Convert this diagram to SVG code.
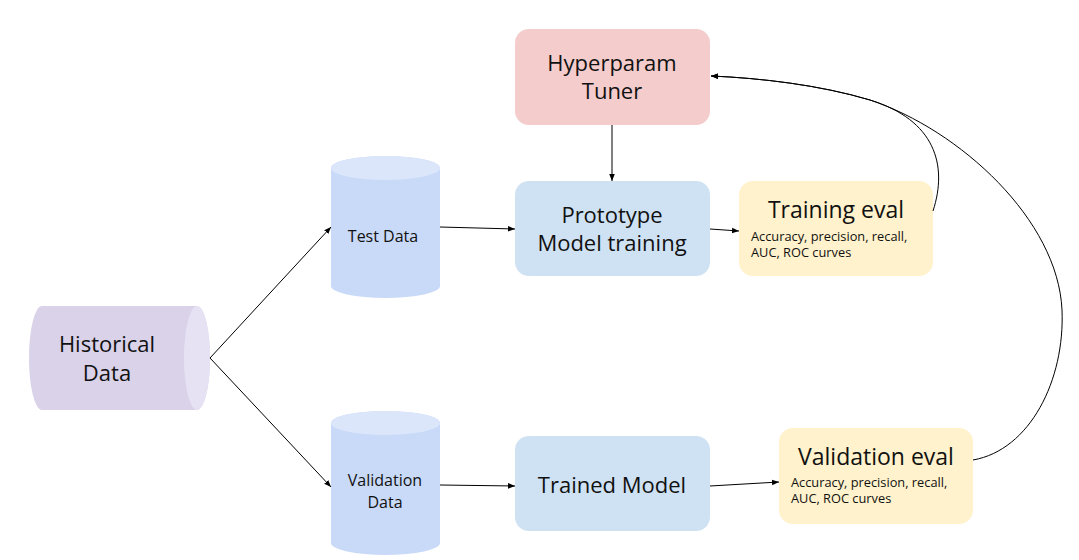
<svg xmlns="http://www.w3.org/2000/svg" width="1079" height="560" viewBox="0 0 1079 560">
<defs>
<style>
text{font-family:"Open Sans","Noto Sans","DejaVu Sans",sans-serif;fill:#111;}
.big{font-size:22px;text-anchor:middle;}
.mid{font-size:16px;text-anchor:middle;}
.title{font-size:23px;text-anchor:middle;}
.small{font-size:12.8px;}
.conn{fill:none;stroke:#000;stroke-width:1;}
</style>
<marker id="arr" viewBox="0 0 10 10" refX="10" refY="5" markerWidth="7" markerHeight="7" orient="auto" markerUnits="userSpaceOnUse">
<path d="M0,1 L10,5 L0,9 z" fill="#000"/>
</marker>
</defs>
<rect width="1079" height="560" fill="#fff"/>
<g id="historical-data">
<path d="M42,306 L197,306 A13,52 0 0 1 197,410 L42,410 A13,52 0 0 1 42,306 z" fill="#d9d2e9"/>
<ellipse cx="197" cy="358" rx="13" ry="52" fill="#e7e2f3"/>
<text class="big" x="107" y="352">Historical</text>
<text class="big" x="107" y="381">Data</text>
</g>
<g id="test-data">
<path d="M331,168 A54.5,12 0 0 1 440,168 L440,286 A54.5,12 0 0 1 331,286 z" fill="#c9daf8"/>
<ellipse cx="385.5" cy="168" rx="54.5" ry="12" fill="#dbe6fb"/>
<text class="mid" x="383" y="242">Test Data</text>
</g>
<g id="validation-data">
<path d="M331,423 A54.5,12 0 0 1 440,423 L440,543 A54.5,12 0 0 1 331,543 z" fill="#c9daf8"/>
<ellipse cx="385.5" cy="423" rx="54.5" ry="12" fill="#dbe6fb"/>
<text class="mid" x="385" y="486">Validation</text>
<text class="mid" x="385" y="508">Data</text>
</g>
<g id="hyperparam-tuner">
<rect x="515" y="29" width="195" height="96" rx="14" fill="#f4cccc"/>
<text class="big" x="612" y="71">Hyperparam</text>
<text class="big" x="612" y="99">Tuner</text>
</g>
<g id="prototype-model-training">
<rect x="515" y="181" width="195" height="95" rx="14" fill="#cfe2f3"/>
<text class="big" x="612" y="223">Prototype</text>
<text class="big" x="612" y="251">Model training</text>
</g>
<g id="training-eval">
<rect x="739" y="181" width="194" height="95" rx="14" fill="#fff2cc"/>
<text class="title" x="836" y="218">Training eval</text>
<text class="small" x="751" y="241">Accuracy, precision, recall,</text>
<text class="small" x="751" y="257">AUC, ROC curves</text>
</g>
<g id="trained-model">
<rect x="515" y="436" width="195" height="95" rx="14" fill="#cfe2f3"/>
<text class="big" x="612" y="493">Trained Model</text>
</g>
<g id="validation-eval">
<rect x="779" y="428" width="194" height="96" rx="14" fill="#fff2cc"/>
<text class="title" x="876" y="465">Validation eval</text>
<text class="small" x="791" y="487">Accuracy, precision, recall,</text>
<text class="small" x="791" y="503">AUC, ROC curves</text>
</g>
<g id="connectors">
<line class="conn" x1="210" y1="358" x2="331" y2="227" marker-end="url(#arr)"/>
<line class="conn" x1="210" y1="358" x2="331" y2="487" marker-end="url(#arr)"/>
<line class="conn" x1="440" y1="227" x2="515" y2="229" marker-end="url(#arr)"/>
<line class="conn" x1="440" y1="485" x2="515" y2="486" marker-end="url(#arr)"/>
<line class="conn" x1="612" y1="125" x2="612" y2="181" marker-end="url(#arr)"/>
<line class="conn" x1="710" y1="229" x2="739" y2="231" marker-end="url(#arr)"/>
<line class="conn" x1="710" y1="486" x2="779" y2="482" marker-end="url(#arr)"/>
<path class="conn" d="M933,211 C948,165 935,120 870,100 C820,85 760,78 711,76" marker-end="url(#arr)"/>
<path class="conn" d="M973,460 C1030,450 1065,380 1062,310 C1058,220 960,130 870,100 C820,85 760,78 711,76" marker-end="url(#arr)"/>
</g>
</svg>
